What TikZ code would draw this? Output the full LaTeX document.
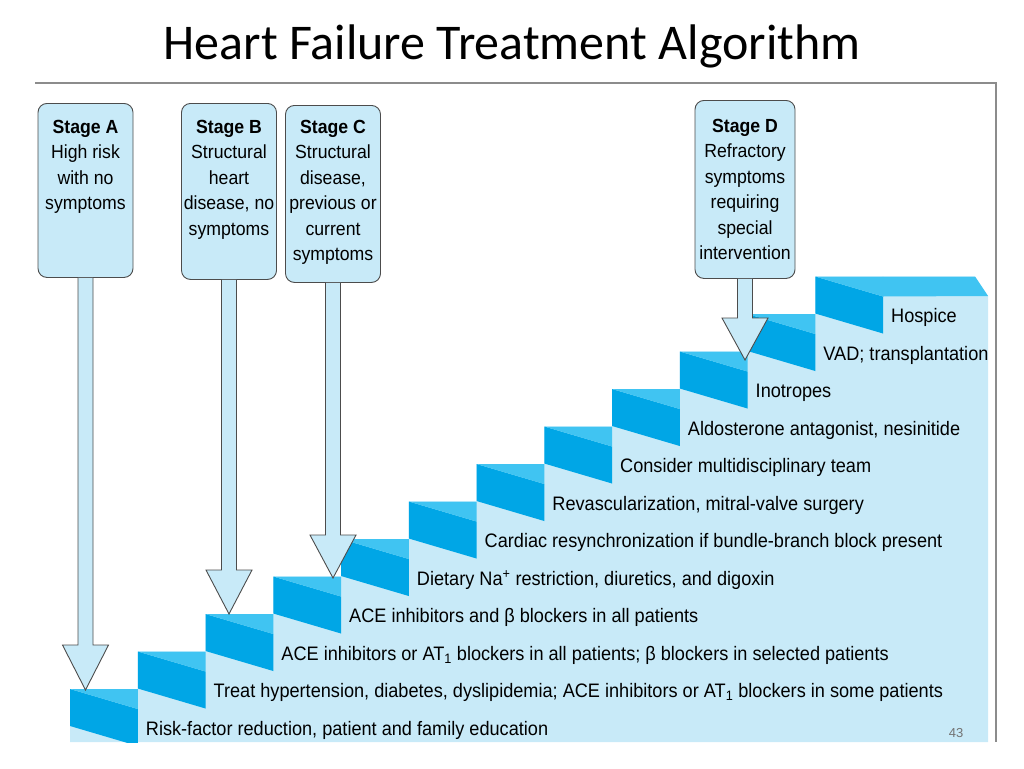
\documentclass[tikz,border=0pt]{standalone}
\usepackage{fontspec}
\setmainfont{Liberation Sans}
\newfontfamily\titlefont{Carlito}
\newcommand{\narrowtxt}[1]{\scalebox{0.93}[1]{#1}}
\begin{document}
\begin{tikzpicture}[x=1pt,y=-1pt,
  steptext/.style={anchor=west,font=\fontsize{19.5}{22}\selectfont,inner sep=0pt},
  stagebox/.style={draw=black!70,line width=0.9pt,fill=pale,rounded corners=9pt,minimum width=95pt,anchor=north,inner sep=0pt},
  stagetext/.style={align=center,anchor=north,font=\fontsize{19}{25.5}\selectfont,inner sep=0pt},
  stagearrow/.style={draw=black!70,line width=0.9pt,fill=pale,line join=miter}]
\definecolor{pale}{HTML}{C8EAF8}
\definecolor{riser}{HTML}{00A6E6}
\definecolor{tread}{HTML}{40C4F2}
\useasboundingbox (0,0) rectangle (1024,768);
\node[font=\titlefont\fontsize{50}{54}\selectfont] (title) at (512,46) {Heart Failure Treatment Algorithm};
\draw[black!45,line width=1.2pt] (35,83) -- (996,83) -- (996,742);
% pale body
\fill[pale] (70,742) -- (70,689)
  \foreach \i in {1,...,11} { -- ({70+67.75*\i},{689-37.5*(\i-1)}) -- ({70+67.75*\i},{689-37.5*\i}) }
  -- (975,276.5) -- (988,296) -- (988,742) -- cycle;
\begin{scope}
\clip (0,0) rectangle (1024,742);
\foreach \i in {0,...,11} {
  \pgfmathsetmacro{\xx}{70+67.75*\i}
  \pgfmathsetmacro{\yy}{689-37.5*\i}
  \fill[riser] (\xx,\yy) -- (\xx+67.75,\yy+20) -- (\xx+67.75,\yy+57) -- (\xx,\yy+37) -- cycle;
  \fill[tread] (\xx,\yy) -- (\xx+67.75,\yy) -- (\xx+67.75,\yy+20) -- cycle;
}
\fill[tread] (882.75,276.5) -- (975,276.5) -- (988,296) -- (882.75,296.5) -- cycle;
\end{scope}
% step texts
\foreach \i/\t in {0/{Risk-factor reduction, patient and family education},
 1/{Treat hypertension, diabetes, dyslipidemia; ACE inhibitors or AT\textsubscript{1} blockers in some patients},
 2/{ACE inhibitors or AT\textsubscript{1} blockers in all patients; β blockers in selected patients},
 3/{ACE inhibitors and β blockers in all patients},
 4/{Dietary Na\textsuperscript{+} restriction, diuretics, and digoxin},
 5/{Cardiac resynchronization if bundle-branch block present},
 6/{Revascularization, mitral-valve surgery},
 7/{Consider multidisciplinary team},
 8/{Aldosterone antagonist, nesinitide},
 9/{Inotropes},
 10/{VAD; transplantation},
 11/{Hospice}} {
  \node[steptext] (s\i) at ({70+67.75*(\i+1)+8},{689-37.5*\i+41}) {\narrowtxt{\t}};
}
\node[font=\fontsize{13}{15}\selectfont,text=black!55] (pg) at (956,733) {43};
% stage boxes
\node[stagebox,minimum height=174pt] (A) at (85.5,103) {};
\node[stagebox,minimum height=176pt] (B) at (229,103) {};
\node[stagebox,minimum height=177pt] (C) at (333,105) {};
\node[stagebox,minimum height=178pt,minimum width=100pt] (D) at (745,100) {};
\node[stagetext] (At) at ([yshift=-17pt]A.north) {\narrowtxt{\textbf{Stage A}}\\\narrowtxt{High risk}\\\narrowtxt{with no}\\\narrowtxt{symptoms}};
\node[stagetext] (Bt) at ([yshift=-17pt]B.north) {\narrowtxt{\textbf{Stage B}}\\\narrowtxt{Structural}\\\narrowtxt{heart}\\\narrowtxt{disease, no}\\\narrowtxt{symptoms}};
\node[stagetext] (Ct) at ([yshift=-15pt]C.north) {\narrowtxt{\textbf{Stage C}}\\\narrowtxt{Structural}\\\narrowtxt{disease,}\\\narrowtxt{previous or}\\\narrowtxt{current}\\\narrowtxt{symptoms}};
\node[stagetext] (Dt) at ([yshift=-19pt]D.north) {\narrowtxt{\textbf{Stage D}}\\\narrowtxt{Refractory}\\\narrowtxt{symptoms}\\\narrowtxt{requiring}\\\narrowtxt{special}\\\narrowtxt{intervention}};
% hollow arrows
\foreach \n/\base/\tip in {A/645/690, B/570/614, C/535/578, D/318/360} {
  \path (\n.south) coordinate (\n top);
  \draw[stagearrow] ([xshift=-7.5pt]\n top) -- ([xshift=-7.5pt]\n top |- 0,\base) -- ([xshift=-23pt]\n top |- 0,\base)
    -- (\n top |- 0,\tip) -- ([xshift=23pt]\n top |- 0,\base) -- ([xshift=7.5pt]\n top |- 0,\base) -- ([xshift=7.5pt]\n top);
}
\end{tikzpicture}
\end{document}
